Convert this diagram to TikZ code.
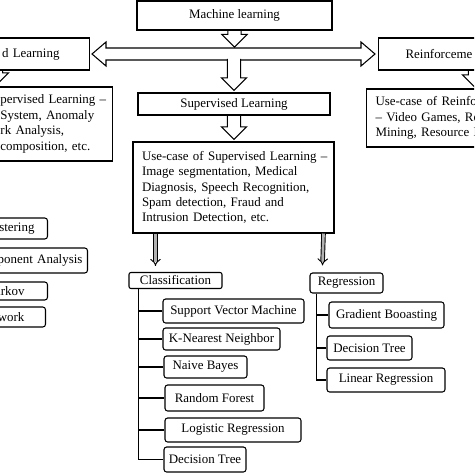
\documentclass[tikz,border=0pt]{standalone}
\usepackage{fontspec}
\setmainfont{Liberation Serif}
\usetikzlibrary{calc, arrows.meta}

% hollow block arrow pointing down: [extra options]{start}{tip}
\newcommand{\hdown}[3][]{%
	\draw[harrow, #1] let \p1=(#2), \p2=(#3) in
	(\x1-5pt,\y1) -- (\x1-5pt,\y2+9.5pt) -- (\x1-9.5pt,\y2+9.5pt) -- (\x1,\y2)
	-- (\x1+9.5pt,\y2+9.5pt) -- (\x1+5pt,\y2+9.5pt) -- (\x1+5pt,\y1);}

\begin{document}
\begin{tikzpicture}[x=0.75pt, y=-0.75pt, font=\fontsize{9.7}{11.6}\selectfont,
	box/.style={draw, black, line width=0.8pt, inner sep=0pt, align=center},
	leaf/.style={box, rounded corners=2pt},
	harrow/.style={draw, black, line width=0.8pt, line join=miter},
	dbl/.style={double=gray!60, double distance=2pt, line width=0.7pt, -{Implies}}]
	\useasboundingbox (0,0) rectangle (474,474);
	\clip (0,0) rectangle (474,474);
	
	% top level
	\node[box, minimum width=146.25pt, minimum height=21.75pt] (ml) at (234.5,15.5) {Machine learning};
	\node[box, anchor=east, minimum height=24pt, inner xsep=22.5pt, text width=80pt, align=right] (unsup) at (90,54) {d Learning};
	\node[box, anchor=west, minimum height=24pt, inner xsep=20.25pt, text width=120pt, align=left] (rl) at (378,54) {Reinforceme};
	\node[box, minimum width=144pt, minimum height=16.5pt] (sl) at (234,104) {Supervised Learning};
	
	% use-cases
	\node[box, anchor=east, minimum height=55.5pt, inner xsep=1pt, text width=83pt, align=left] (unsupu) at (113,124) {\mbox{pervised Learning –}\\System, Anomaly\\rk Analysis,\\composition, etc.};
	\node[box, minimum height=68.25pt, inner xsep=6.75pt, text width=137.25pt, align=left] (slu) at (233.5,187.5) {\mbox{Use-case of Supervised Learning –}\\Image segmentation, Medical\\Diagnosis, Speech Recognition,\\Spam detection, Fraud and\\Intrusion Detection, etc.};
	\node[box, anchor=west, minimum height=43.5pt, inner xsep=6.75pt, text width=120pt, align=left] (rlu) at (366,118) {Use-case of Reinfo\\– Video Games, Ro\\Mining, Resource M};
	
	% unsupervised methods
	\node[leaf, anchor=east, minimum height=15.75pt, inner xsep=9.75pt, text width=60pt, align=right] (u1) at (48,228.5) {stering};
	\node[leaf, anchor=east, minimum height=18.75pt, inner xsep=3.75pt, text width=80pt, align=right] (u2) at (88,260.5) {ponent Analysis};
	\node[leaf, anchor=east, minimum height=13.5pt, inner xsep=17.25pt, text width=60pt, align=right] (u3) at (48,291) {arkov};
	\node[leaf, anchor=east, minimum height=15pt, inner xsep=15.75pt, text width=60pt, align=right] (u4) at (46,317) {work};
	
	% supervised methods
	\node[leaf, rounded corners=1.5pt, minimum width=69.75pt, minimum height=12pt] (cls) at (175.5,280.5) {Classification};
	\node[leaf, minimum width=54.75pt, minimum height=15pt] (reg) at (346.5,283) {Regression};
	
	\node[leaf, minimum width=105.75pt, minimum height=18pt] (svm) at (233.5,311) {Support Vector Machine};
	\node[leaf, minimum width=87.75pt, minimum height=16.5pt] (knn) at (221.5,339) {K-Nearest Neighbor};
	\node[leaf, minimum width=62.25pt, minimum height=16.5pt] (nb) at (205.5,367) {Naive Bayes};
	\node[leaf, minimum width=74.25pt, minimum height=19.5pt] (rf) at (214.5,398) {Random Forest};
	\node[leaf, minimum width=102pt, minimum height=18pt] (lr) at (233,430) {Logistic Regression};
	\node[leaf, minimum width=61.5pt, minimum height=18.75pt] (dt) at (205,459.5) {Decision Tree};
	
	\node[leaf, minimum width=86.25pt, minimum height=19.5pt] (gb) at (386.5,315) {Gradient Booasting};
	\node[leaf, minimum width=63.75pt, minimum height=18pt] (dtr) at (369.5,348) {Decision Tree};
	\node[leaf, minimum width=88.5pt, minimum height=18pt] (linr) at (386,380) {Linear Regression};
	
	% tree lines
	\coordinate (ct) at ($(cls.south west)+(10,0)$);
	\coordinate (rt) at ($(reg.south west)+(7,0)$);
	\foreach \n in {svm,knn,nb,rf,lr,dt} \draw[line width=0.8pt] (ct) |- (\n.west);
	\foreach \n in {gb,dtr,linr} \draw[line width=0.8pt] (rt) |- (\n.west);
	
	\draw[dbl] ($(slu.south west)+(23,0)$) -- ($(cls.north west)+(27,-6)$);
	\draw[dbl] ($(slu.south east)+(-11,0)$) -- ($(reg.north west)+(13,-7)$);
	
	% block arrows
	\coordinate (bl) at ($(unsup.east)+(2,0)$);
	\coordinate (br) at ($(rl.west)+(-3,0)$);
	\draw[harrow] let \p1=(bl), \p2=(br) in (\p1) -- ++(10.5pt,9pt) -- ++(0,-4.5pt)
		-- (\x2-10.5pt,\y2+4.5pt) -- ++(0,4.5pt) -- (\p2) -- ++(-10.5pt,-9pt) -- ++(0,4.5pt)
		-- (\x1+10.5pt,\y1-4.5pt) -- ++(0,-4.5pt) -- cycle;
	\hdown{ml.south}{$(ml.south)+(0,16.5)$}
	\hdown[fill=white]{$(sl.north)+(0,-33.5)$}{$(sl.north)+(0,-2)$}
	\hdown{sl.south}{$(slu.north)+(0,-2)$}
	\hdown{$(unsup.south east)+(-94,0)$}{$(unsupu.north east)+(0,-1)$}
	\hdown{$(rl.south west)+(97,0)$}{$(rlu.north west)+(0,-1)$}
	
\end{tikzpicture}
\end{document}
